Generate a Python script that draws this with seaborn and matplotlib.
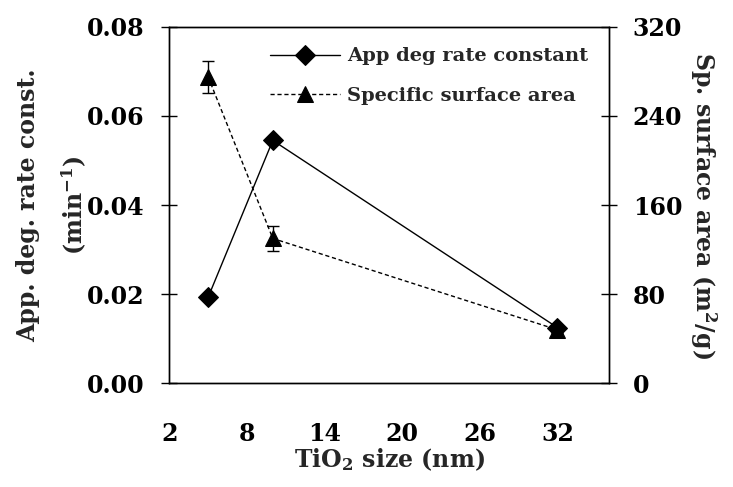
"""
Apparent degradation rate constant and specific surface area vs TiO2 particle size.
Dual y-axis line chart recreated with seaborn.
"""

import matplotlib
matplotlib.use("Agg")
import matplotlib.pyplot as plt
import pandas as pd
import seaborn as sns

# ------------------------------------------------------------------------------
# Data
# ------------------------------------------------------------------------------
tio2_size = [5, 10, 32]
rate_const = [0.0193, 0.0545, 0.0125]
surface_area = [275, 130, 48]
surface_err = [14, 11, 3]

x_ticks = [2, 8, 14, 20, 26, 32]
left_ticks = [0.00, 0.02, 0.04, 0.06, 0.08]
right_ticks = [0, 80, 160, 240, 320]

df = pd.DataFrame({
    "size": tio2_size,
    "rate": rate_const,
    "area": surface_area,
    "area_err": surface_err,
})

# ------------------------------------------------------------------------------
# Plot
# ------------------------------------------------------------------------------
sns.set_style("white")
plt.rcParams["font.family"] = ["DejaVu Serif"]
plt.rcParams["mathtext.fontset"] = "dejavuserif"

fig, ax = plt.subplots(figsize=(7.33, 4.87), dpi=100)
ax2 = ax.twinx()

sns.lineplot(data=df, x="size", y="rate", ax=ax, color="black", lw=1.0,
             marker="D", markersize=10, markeredgecolor="black",
             label="App deg rate constant", legend=False)
sns.lineplot(data=df, x="size", y="area", ax=ax2, color="black", lw=1.0,
             linestyle=(0, (3, 2)), marker="^", markersize=11,
             markeredgecolor="black", label="Specific surface area", legend=False)
ax2.errorbar(df["size"], df["area"], yerr=df["area_err"], fmt="none",
             ecolor="black", elinewidth=1.0, capsize=4)

ax.set_xlim(2, 36)
ax.set_ylim(0, 0.08)
ax2.set_ylim(0, 320)
ax.set_xticks(x_ticks)
ax.set_yticks(left_ticks)
ax2.set_yticks(right_ticks)
ax.set_yticklabels([f"{v:.2f}" for v in left_ticks])

bold = dict(fontsize=17, fontweight="bold")
for lab in ax.get_xticklabels() + ax.get_yticklabels() + ax2.get_yticklabels():
    lab.set_fontsize(17)
    lab.set_fontweight("bold")

ax.set_xlabel(r"TiO$_\mathbf{2}$ size (nm)", **bold, labelpad=0)
ax.set_ylabel("App. deg. rate const.\n(min$^{\\mathbf{-1}}$)", **bold,
              linespacing=1.85, labelpad=-2)
ax2.set_ylabel("Sp. surface area (m$^{\\mathbf{2}}$/g)", **bold,
               rotation=270, labelpad=26)

for a in (ax, ax2):
    for s in a.spines.values():
        s.set_color("black")
        s.set_linewidth(1.0)
ax.tick_params(axis="x", direction="out", length=7, width=1, colors="black", pad=21)
ax.tick_params(axis="y", direction="inout", length=12, width=1, colors="black", pad=12)
ax2.tick_params(axis="y", direction="inout", length=12, width=1, colors="black", pad=11)

h1, l1 = ax.get_legend_handles_labels()
h2, l2 = ax2.get_legend_handles_labels()
ax2.legend(h1 + h2, l1 + l2, loc="upper right", frameon=False,
           prop={"size": 14, "weight": "bold"}, handlelength=3.6,
           handletextpad=0.4, borderaxespad=0.66, labelspacing=1.1)

fig.subplots_adjust(left=0.231, right=0.831, top=0.945, bottom=0.213)
fig.savefig("out.png", dpi=100)
